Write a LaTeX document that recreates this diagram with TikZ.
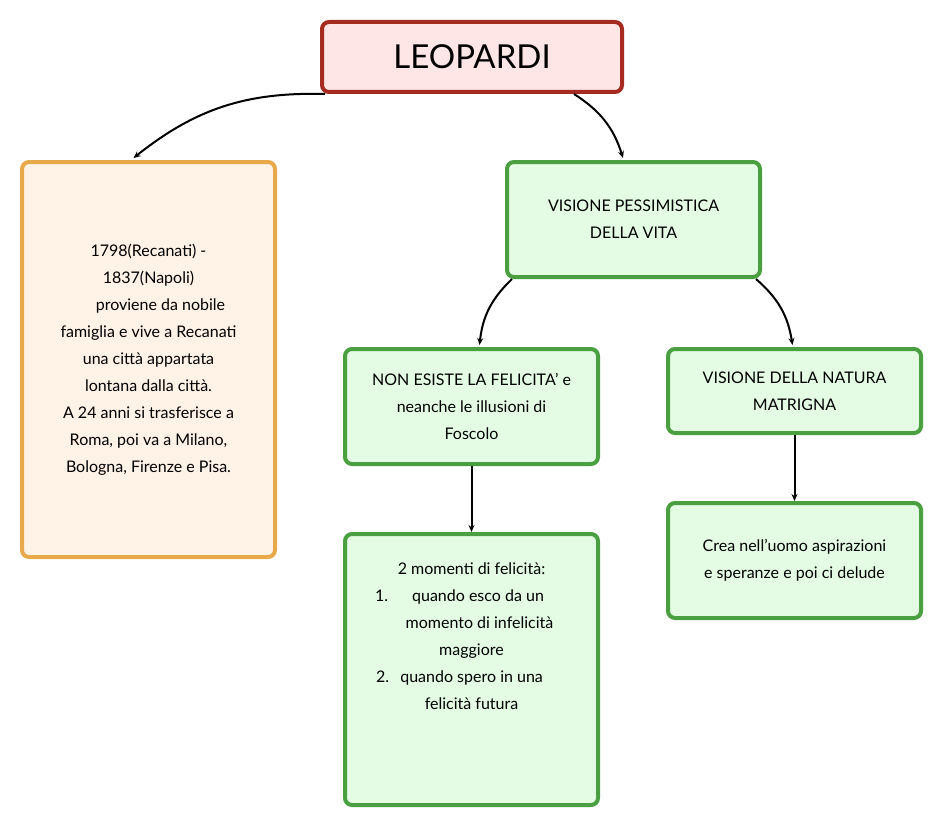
\documentclass[tikz,border=0pt]{standalone}
\usepackage{fontspec}
\setmainfont{Lato}
\usetikzlibrary{calc,arrows.meta}
\definecolor{gfill}{HTML}{E3FCE3}
\definecolor{gdraw}{HTML}{4AA040}
\definecolor{ofill}{HTML}{FFF2E6}
\definecolor{odraw}{HTML}{E8A94A}
\definecolor{rfill}{HTML}{FFE6E6}
\definecolor{rdraw}{HTML}{A52A1F}
\tikzset{
 box/.style={draw, line width=4pt, rounded corners=7pt, anchor=north west, align=center, font=\fontsize{16}{27}\selectfont, inner sep=2pt},
 gbox/.style={box, draw=gdraw, fill=gfill},
 conn/.style={line width=2pt, -{Stealth[length=7pt,width=6pt]}}
}
\begin{document}
\begin{tikzpicture}[x=1pt,y=-1pt]
\useasboundingbox (0,0) rectangle (939,824);
\node[box, draw=rdraw, fill=rfill, minimum width=300pt, minimum height=70pt, font=\fontsize{33}{36}\selectfont] (leo) at (320,20) {LEOPARDI};
\node[box, draw=odraw, fill=ofill, minimum width=253pt, minimum height=395pt] (bio) at (20,160) {1798(Recanati) -\\1837(Napoli)\\\hspace*{1.5em}proviene da nobile\\famiglia e vive a Recanati\\una città appartata\\lontana dalla città.\\A 24 anni si trasferisce a\\Roma, poi va a Milano,\\Bologna, Firenze e Pisa.};
\node[gbox, minimum width=253pt, minimum height=115pt] (vis) at (505,160) {VISIONE PESSIMISTICA\\DELLA VITA};
\node[gbox, minimum width=253pt, minimum height=115pt] (fel) at (343,347) {NON ESISTE LA FELICITA' e\\neanche le illusioni di\\Foscolo};
\node[gbox, minimum width=253pt, minimum height=84pt] (nat) at (666,347) {VISIONE DELLA NATURA\\MATRIGNA};
\node[gbox, minimum width=253pt, minimum height=271pt] (mom) at (343,532) {2 momenti di felicità:\\\hspace*{-1.5em}1.\hspace{1.5em}quando esco da un\\\hspace*{1em}momento di infelicità\\maggiore\\\hspace*{-1.5em}2.\hspace{0.7em}quando spero in una\\felicità futura\\[2.5em]};
\node[gbox, minimum width=253pt, minimum height=115pt] (crea) at (666,501) {Crea nell'uomo aspirazioni\\e speranze e poi ci delude};
\draw[conn] ($(leo.south west)+(5,0)$) to[bend right=20] ($(bio.north)+(-15,-2)$);
\draw[conn] ($(leo.south east)+(-50,0)$) to[bend left=20] ($(vis.north west)+(118,-2)$);
\draw[conn] ($(vis.south west)+(7,0)$) to[bend right=20] ($(fel.north)+(8,-2)$);
\draw[conn] ($(vis.south east)+(-6,0)$) to[bend left=20] ($(nat.north)+(-2,-2)$);
\draw[conn] (fel.south) -- (mom.north);
\draw[conn] ($(nat.south)+(0,0)$) -- ($(crea.north)+(0,0)$);
\end{tikzpicture}
\end{document}
